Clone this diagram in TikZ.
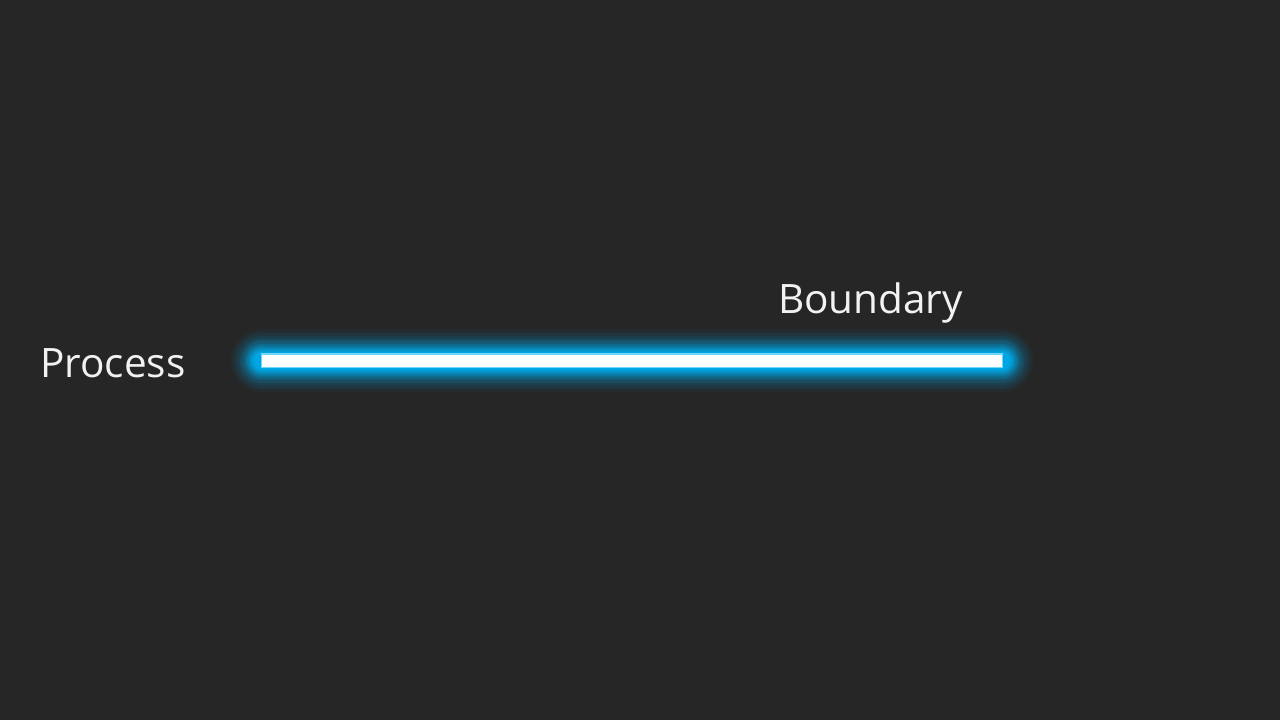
\documentclass[tikz,border=0pt]{standalone}
\usepackage{fontspec}
\setmainfont{Open Sans}
\definecolor{bg}{RGB}{38,38,38}
\definecolor{glow}{RGB}{0,170,235}
\definecolor{halo}{RGB}{110,215,250}
\definecolor{txt}{RGB}{242,242,242}
\begin{document}
\begin{tikzpicture}[x=1pt,y=-1pt,
  lbl/.style={anchor=base west,inner sep=0pt,text=txt,font=\fontsize{40.5}{48}\selectfont}]
\useasboundingbox[fill=bg] (0,0) rectangle (1280,720);
\coordinate (a) at (262,360.5);
\coordinate (b) at (1002,360.5);
\foreach \w/\o in {62/0.06,56/0.07,50/0.09,44/0.12,39/0.15,34/0.2,30/0.26,26/0.35,22/0.5,18/0.75}{
  \draw[glow,line width=\w,line cap=round,opacity=\o] (a) -- (b);
}
\draw[halo,line width=14.5,line cap=butt] ([xshift=-1]a) -- ([xshift=1]b);
\draw[white,line width=12,line cap=butt] (a) -- (b);
\node[lbl] (p) at (40,377) {Process};
\node[lbl] (bd) at (778,313) {Boundary};
\end{tikzpicture}
\end{document}
